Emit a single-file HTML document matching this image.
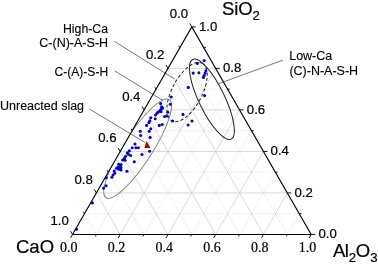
<!DOCTYPE html>
<html><head><meta charset="utf-8"><title>Ternary diagram</title>
<style>html,body{margin:0;padding:0;background:#fff}svg{display:block}</style></head>
<body>
<svg width="378" height="264" viewBox="0 0 378 264">
<rect width="378" height="264" fill="#fff"/>
<g stroke="#d0d0d0" stroke-width="0.6" fill="none" stroke-dasharray="0.9 0.9">
<path d="M84.43 213.69L299.26 213.69"/>
<path d="M96.37 234.45L203.74 47.66"/>
<path d="M287.33 234.45L179.87 47.66"/>
<path d="M108.29 172.19L275.38 172.19"/>
<path d="M144.11 234.45L227.62 89.16"/>
<path d="M239.59 234.45L156.01 89.16"/>
<path d="M132.15 130.68L251.50 130.68"/>
<path d="M191.85 234.45L251.50 130.67"/>
<path d="M191.85 234.45L132.15 130.67"/>
<path d="M156.01 89.17L227.62 89.17"/>
<path d="M239.59 234.45L275.38 172.18"/>
<path d="M144.11 234.45L108.29 172.18"/>
<path d="M179.87 47.66L203.74 47.66"/>
<path d="M287.33 234.45L299.26 213.69"/>
<path d="M96.37 234.45L84.43 213.69"/>
</g>
<g stroke="#c8c8c8" stroke-width="0.7" fill="none">
<path d="M96.36 192.94L287.32 192.94"/>
<path d="M120.24 234.45L215.68 68.41"/>
<path d="M263.46 234.45L167.94 68.41"/>
<path d="M120.22 151.43L263.44 151.43"/>
<path d="M167.98 234.45L239.56 109.92"/>
<path d="M215.72 234.45L144.08 109.92"/>
<path d="M144.08 109.92L239.56 109.92"/>
<path d="M215.72 234.45L263.44 151.43"/>
<path d="M167.98 234.45L120.22 151.43"/>
<path d="M167.94 68.41L215.68 68.41"/>
<path d="M263.46 234.45L287.32 192.94"/>
<path d="M120.24 234.45L96.36 192.94"/>
</g>
<clipPath id="tri"><path d="M72.5 234.45L191.8 26.9L311.2 234.45Z"/></clipPath>
<g fill="none">
<g clip-path="url(#tri)"><ellipse cx="137.7" cy="148.7" rx="58.3" ry="14.5" transform="rotate(-57.2 137.7 148.7)" stroke="#858585" stroke-width="1"/></g>
<ellipse cx="187.05" cy="92.05" rx="32.5" ry="15" transform="rotate(-62.2 187.05 92.05)" stroke="#222" stroke-width="1" stroke-dasharray="3.2 2.2"/>
<ellipse cx="211.9" cy="99.3" rx="44.2" ry="12.9" transform="rotate(64.2 211.9 99.3)" stroke="#222" stroke-width="1"/>
</g>
<g stroke="#555" stroke-width="0.8" fill="none">
<path d="M114.4 41.3L174.5 79"/>
<path d="M114.9 71L163 100.5"/>
<path d="M89.7 109.2L145 142.5"/>
<path d="M282.9 60.1L218.8 83.7"/>
</g>
<path d="M72.5 234.45L191.8 26.9L311.2 234.45Z" fill="none" stroke="#000" stroke-width="1.1" stroke-linejoin="miter"/>
<g stroke="#111" stroke-width="1" fill="none">
<path d="M311.20 234.45l4.00 0"/>
<path d="M191.80 26.90l-2.00 -3.46"/>
<path d="M72.50 234.45l-2.00 3.46"/>
<path d="M299.26 213.69l2.20 0"/>
<path d="M179.87 47.66l-1.10 -1.91"/>
<path d="M96.37 234.45l-1.10 1.91"/>
<path d="M287.32 192.94l4.00 0"/>
<path d="M167.94 68.41l-2.00 -3.46"/>
<path d="M120.24 234.45l-2.00 3.46"/>
<path d="M275.38 172.19l2.20 0"/>
<path d="M156.01 89.16l-1.10 -1.91"/>
<path d="M144.11 234.45l-1.10 1.91"/>
<path d="M263.44 151.43l4.00 0"/>
<path d="M144.08 109.92l-2.00 -3.46"/>
<path d="M167.98 234.45l-2.00 3.46"/>
<path d="M251.50 130.68l2.20 0"/>
<path d="M132.15 130.67l-1.10 -1.91"/>
<path d="M191.85 234.45l-1.10 1.91"/>
<path d="M239.56 109.92l4.00 0"/>
<path d="M120.22 151.43l-2.00 -3.46"/>
<path d="M215.72 234.45l-2.00 3.46"/>
<path d="M227.62 89.17l2.20 0"/>
<path d="M108.29 172.18l-1.10 -1.91"/>
<path d="M239.59 234.45l-1.10 1.91"/>
<path d="M215.68 68.41l4.00 0"/>
<path d="M96.36 192.94l-2.00 -3.46"/>
<path d="M263.46 234.45l-2.00 3.46"/>
<path d="M203.74 47.66l2.20 0"/>
<path d="M84.43 213.69l-1.10 -1.91"/>
<path d="M287.33 234.45l-1.10 1.91"/>
<path d="M191.80 26.90l4.00 0"/>
<path d="M72.50 234.45l-2.00 -3.46"/>
<path d="M311.20 234.45l-2.00 3.46"/>
</g>
<g fill="#0404d0">
<circle cx="204.2" cy="60.6" r="1.55"/>
<circle cx="197.4" cy="63.4" r="1.55"/>
<circle cx="193.2" cy="73.1" r="1.55"/>
<circle cx="198.9" cy="72.7" r="1.55"/>
<circle cx="205.9" cy="70.8" r="1.55"/>
<circle cx="205.1" cy="73.1" r="1.55"/>
<circle cx="204.2" cy="75.5" r="1.55"/>
<circle cx="203.4" cy="77.4" r="1.55"/>
<circle cx="188.3" cy="87.4" r="1.55"/>
<circle cx="204.6" cy="95.6" r="1.55"/>
<circle cx="171.2" cy="97.0" r="1.55"/>
<circle cx="170.3" cy="104.2" r="1.55"/>
<circle cx="160.6" cy="103.6" r="1.55"/>
<circle cx="161.6" cy="106.9" r="1.55"/>
<circle cx="162.7" cy="108.1" r="1.55"/>
<circle cx="161" cy="109.2" r="1.55"/>
<circle cx="159.9" cy="110.9" r="1.55"/>
<circle cx="158.2" cy="112" r="1.55"/>
<circle cx="161" cy="111.8" r="1.55"/>
<circle cx="157" cy="113.2" r="1.55"/>
<circle cx="155.5" cy="115" r="1.55"/>
<circle cx="167.8" cy="112.2" r="1.55"/>
<circle cx="166.9" cy="115.9" r="1.55"/>
<circle cx="164.6" cy="116.5" r="1.55"/>
<circle cx="183" cy="114.4" r="1.55"/>
<circle cx="150.8" cy="117.8" r="1.55"/>
<circle cx="155.2" cy="118.8" r="1.55"/>
<circle cx="149.9" cy="120.7" r="1.55"/>
<circle cx="172.6" cy="121.0" r="1.55"/>
<circle cx="192" cy="121" r="1.55"/>
<circle cx="148.9" cy="122.6" r="1.55"/>
<circle cx="146.6" cy="125.4" r="1.55"/>
<circle cx="159.3" cy="125.4" r="1.55"/>
<circle cx="162.2" cy="124.5" r="1.55"/>
<circle cx="188.1" cy="125" r="1.55"/>
<circle cx="150.8" cy="128.8" r="1.55"/>
<circle cx="149.2" cy="131.2" r="1.55"/>
<circle cx="140.3" cy="131.2" r="1.55"/>
<circle cx="140.7" cy="135.5" r="1.55"/>
<circle cx="150.1" cy="137.4" r="1.55"/>
<circle cx="135" cy="144" r="1.55"/>
<circle cx="132.2" cy="147.8" r="1.55"/>
<circle cx="135.9" cy="147.8" r="1.55"/>
<circle cx="138.4" cy="147.8" r="1.55"/>
<circle cx="142" cy="154.5" r="1.55"/>
<circle cx="149.6" cy="151.2" r="1.55"/>
<circle cx="129.3" cy="150.9" r="1.55"/>
<circle cx="127.3" cy="152.8" r="1.55"/>
<circle cx="128.4" cy="154.3" r="1.55"/>
<circle cx="130.5" cy="155.5" r="1.55"/>
<circle cx="125.6" cy="156.25" r="1.55"/>
<circle cx="124.4" cy="158.2" r="1.55"/>
<circle cx="122.7" cy="160" r="1.55"/>
<circle cx="125" cy="160.2" r="1.55"/>
<circle cx="134.3" cy="161.7" r="1.55"/>
<circle cx="118.75" cy="164.2" r="1.55"/>
<circle cx="121" cy="164.5" r="1.55"/>
<circle cx="119.9" cy="166.5" r="1.55"/>
<circle cx="118" cy="167" r="1.55"/>
<circle cx="116.5" cy="168.2" r="1.55"/>
<circle cx="121" cy="167.6" r="1.55"/>
<circle cx="118.75" cy="169.3" r="1.55"/>
<circle cx="121" cy="169.9" r="1.55"/>
<circle cx="127" cy="171.25" r="1.55"/>
<circle cx="114.2" cy="171" r="1.55"/>
<circle cx="114.8" cy="173.3" r="1.55"/>
<circle cx="113" cy="175" r="1.55"/>
<circle cx="111.9" cy="177.3" r="1.55"/>
<circle cx="106.25" cy="177.8" r="1.55"/>
<circle cx="106.1" cy="185.7" r="1.55"/>
<circle cx="103.6" cy="188.1" r="1.55"/>
<circle cx="92.4" cy="202.9" r="1.55"/>
<circle cx="76.5" cy="229.2" r="1.55"/>
</g>
<path d="M146.5 141.1L150.5 148L144.4 148Z" fill="#9c0404"/>
<g font-family="'Liberation Sans', Arial, sans-serif" fill="#000" stroke="#000" stroke-width="0.2">
<g font-size="12.3" stroke-width="0.12">
<text x="108.1" y="32.5" text-anchor="end">High-Ca</text>
<text x="108.1" y="47.4" text-anchor="end" font-size="12.52">C-(N)-A-S-H</text>
<text x="108.1" y="76" text-anchor="end" font-size="12.05">C-(A)-S-H</text>
<text x="0" y="109.9" font-size="12.5">Unreacted slag</text>
<text x="289.2" y="59.9" font-size="12.5">Low-Ca</text>
<text x="289.4" y="75.2" font-size="12.5">(C)-N-A-S-H</text>
</g>
<g font-size="13.2" text-anchor="middle">
<text x="179.0" y="17.7">0.0</text>
<text x="155.1" y="59.2">0.2</text>
<text x="131.3" y="100.7">0.4</text>
<text x="107.4" y="142.2">0.6</text>
<text x="83.6" y="183.7">0.8</text>
<text x="59.7" y="225.2">1.0</text>
</g>
<g font-size="13.2">
<text x="318.4" y="238.1">0.0</text>
<text x="294.5" y="196.6">0.2</text>
<text x="270.6" y="155.1">0.4</text>
<text x="246.8" y="113.6">0.6</text>
<text x="222.9" y="72.1">0.8</text>
<text x="199.0" y="30.6">1.0</text>
</g>
<g font-size="18.5">
<text x="221.9" y="15">SiO<tspan font-size="13" dy="4.7" dx="-0.2">2</tspan></text>
<text x="16" y="253.3">CaO</text>
<text x="333.1" y="257.1">A<tspan dx="-0.7">l</tspan><tspan font-size="13.2" dy="4.8" dx="-0.2">2</tspan><tspan dy="-4.8" dx="-0.2">O</tspan><tspan font-size="13.2" dy="4.8">3</tspan></text>
</g>
</g>
<g font-family="'Liberation Serif', 'Times New Roman', serif" fill="#000" stroke="#000" stroke-width="0.2" font-size="14" text-anchor="middle">
<text x="68.8" y="252">0.0</text>
<text x="116.5" y="252">0.2</text>
<text x="164.3" y="252">0.4</text>
<text x="212.0" y="252">0.6</text>
<text x="259.8" y="252">0.8</text>
<text x="307.5" y="252">1.0</text>
</g>
</svg>
</body></html>
